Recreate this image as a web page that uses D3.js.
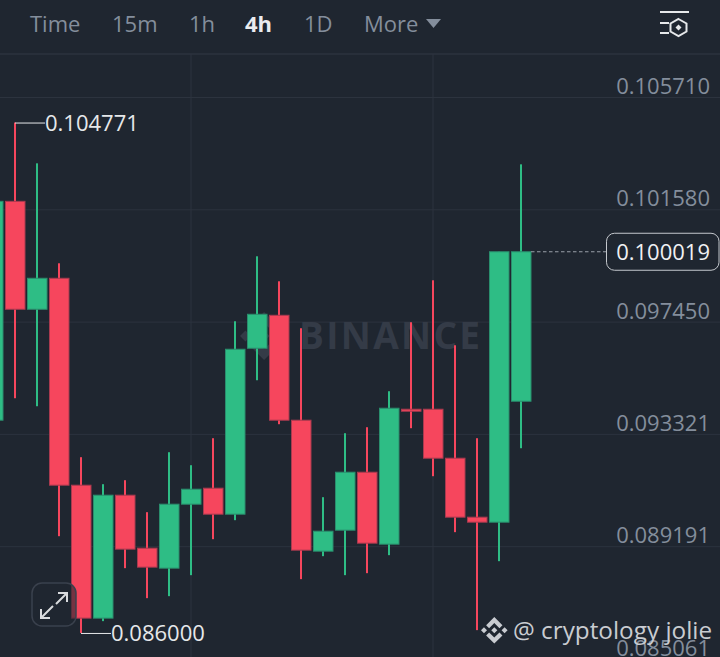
<!DOCTYPE html>
<html>
<head>
<meta charset="utf-8">
<script src="https://cdn.jsdelivr.net/npm/d3@7"></script>
<style>
  html, body { margin: 0; padding: 0; background: #1f2630; overflow: hidden; }
  svg { display: block; }
  text { font-family: "Open Sans", sans-serif; }
</style>
</head>
<body>
<div id="chart"></div>
<script>
// 4h candles
const opens  = [0.093824, 0.101874, 0.097904, 0.099044, 0.091434, 0.086545, 0.091067, 0.089118, 0.088383, 0.090736, 0.091324, 0.090368, 0.096470, 0.097683, 0.093824, 0.089008, 0.089780, 0.091912, 0.089265, 0.094228, 0.094228, 0.092427, 0.090258, 0.090074, 0.094522];
const highs  = [0.101874, 0.104771, 0.103271, 0.099595, 0.092464, 0.091471, 0.091618, 0.090442, 0.092647, 0.092169, 0.093162, 0.097463, 0.099852, 0.098933, 0.097206, 0.090993, 0.093346, 0.093566, 0.094890, 0.097426, 0.098970, 0.096580, 0.093162, 0.100019, 0.103234];
const lows   = [0.093824, 0.094632, 0.094338, 0.089559, 0.086000, 0.086435, 0.088383, 0.087280, 0.087354, 0.088126, 0.089449, 0.090148, 0.095294, 0.093677, 0.087979, 0.088824, 0.088126, 0.088199, 0.088861, 0.093530, 0.091765, 0.089707, 0.086104, 0.088640, 0.092794];
const closes = [0.101874, 0.097904, 0.099044, 0.091434, 0.086545, 0.091067, 0.089082, 0.088420, 0.090736, 0.091287, 0.090368, 0.096434, 0.097720, 0.093824, 0.089045, 0.089743, 0.091912, 0.089302, 0.094265, 0.094154, 0.092427, 0.090258, 0.090074, 0.100019, 0.100019];

const priceTicks = [0.10571, 0.10158, 0.09745, 0.093321, 0.089191, 0.085061];
const timeGridIdx = [9, 20];
const menuItems = ["Time", "15m", "1h", "4h", "1D", "More"];
const menuX = [30, 112, 189, 245, 304, 364];
const activeItem = "4h";
const highLabel = { idx: 1, value: 0.104771 };
const lowLabel = { idx: 4, value: 0.086 };
const lastPrice = 0.100019;

const width = 720;
const height = 657;
const bg = "#1f2630";
const gridColor = "#2c333e";
const up = "#2ebd85";
const down = "#f6465d";
const binancePath = "M38.73 53.2l24.59-24.58 24.6 24.6 14.3-14.31L63.32 0 24.42 38.9l14.31 14.3z M0 63.31l14.3-14.31 14.31 14.31-14.31 14.3z M38.73 73.41l24.59 24.59 24.6-24.6 14.31 14.29-38.9 38.91-38.91-38.88-.02-.02z M98 63.31l14.3-14.31 14.31 14.3-14.31 14.32z M77.83 63.3L63.32 48.78 52.59 59.51l-1.24 1.23-2.54 2.54 14.51 14.52 14.51-14.5z";

const fmt = d3.format(".6f");
const x = d3.scaleLinear().domain([0, 24]).range([-7, 521]);
const y = d3.scaleLinear().domain([0.085061, 0.10571]).range([658.5, 97]);

const svg = d3.select("#chart").append("svg").attr("width", width).attr("height", height);
svg.append("rect").attr("width", width).attr("height", height).attr("fill", bg);

// header
const menu = svg.append("g");
menuItems.forEach((m, i) => {
  menu.append("text")
    .attr("x", menuX[i])
    .attr("y", 32)
    .attr("font-size", 22)
    .attr("font-weight", m === activeItem ? 700 : 400)
    .attr("fill", m === activeItem ? "#eaecef" : "#848e9c")
    .text(m);
});
menu.append("path").attr("d", "M426 19L441 19L433.5 28Z").attr("fill", "#848e9c");

const icon = svg.append("g").attr("fill", "none").attr("stroke", "#e6e8ea").attr("stroke-width", 2);
icon.append("path").attr("d", "M660 12H689M660 23H669M660 33H669");
icon.append("path").attr("d", "M678.5 19L686.5 23.5V31.5L678.5 36L670.5 31.5V23.5Z");
icon.append("path").attr("d", "M678.5 24.5L681.5 27.5L678.5 30.5L675.5 27.5Z").attr("fill", "#e6e8ea").attr("stroke", "none");

// grid
svg.append("line").attr("x1", 0).attr("x2", width).attr("y1", 54).attr("y2", 54).attr("stroke", gridColor).attr("stroke-width", 1.5);
svg.append("g").selectAll("line").data(timeGridIdx).join("line")
  .attr("x1", (d) => x(d)).attr("x2", (d) => x(d))
  .attr("y1", 54).attr("y2", height)
  .attr("stroke", gridColor);

const axis = d3.axisRight(y).tickValues(priceTicks).tickFormat(fmt).tickSize(width);
const axisG = svg.append("g").call(axis);
axisG.select(".domain").remove();
axisG.selectAll(".tick line").attr("stroke", gridColor);
axisG.selectAll(".tick text").remove();

// watermark
svg.append("path").attr("d", binancePath)
  .attr("transform", "translate(240,312) scale(0.38)")
  .attr("fill", "#343b47");
svg.append("text")
  .attr("x", 299).attr("y", 349)
  .attr("font-size", 37).attr("font-weight", 700)
  .attr("textLength", 181)
  .attr("font-family", "Inter, sans-serif")
  .attr("fill", "#343b47")
  .text("BINANCE");

// candles
const candles = opens.map((o, i) => ({ i, o, h: highs[i], l: lows[i], c: closes[i] }));
const candle = svg.append("g").selectAll("g").data(candles).join("g");
candle.append("rect")
  .attr("x", (d) => x(d.i) - 1)
  .attr("width", 2)
  .attr("y", (d) => y(d.h))
  .attr("height", (d) => y(d.l) - y(d.h))
  .attr("fill", (d) => (d.c >= d.o ? up : down));
candle.append("rect")
  .attr("x", (d) => x(d.i) - 9.5)
  .attr("width", 19.5)
  .attr("y", (d) => y(Math.max(d.o, d.c)))
  .attr("height", (d) => Math.max(1, Math.abs(y(d.o) - y(d.c))))
  .attr("fill", (d) => (d.c >= d.o ? up : down))
  .attr("stroke", (d) => (d.c >= d.o ? "#2a8d6d" : "#a83a4f"))
  .attr("stroke-width", 1);

// price labels drawn after the candles, as the tags sit on top
svg.append("g").selectAll("text").data(priceTicks).join("text")
  .attr("x", 710)
  .attr("y", (d) => y(d) - 3)
  .attr("text-anchor", "end")
  .attr("font-size", 22)
  .attr("fill", "#848e9c")
  .text(fmt);

// high / low markers
[highLabel, lowLabel].forEach((m) => {
  svg.append("line")
    .attr("x1", x(m.idx)).attr("x2", x(m.idx) + 30)
    .attr("y1", y(m.value) + 0.5).attr("y2", y(m.value) + 0.5)
    .attr("stroke", "#e6e8ea").attr("stroke-width", 1);
  svg.append("text")
    .attr("x", x(m.idx) + 30)
    .attr("y", y(m.value) + 8.5)
    .attr("font-size", 22)
    .attr("fill", "#e6e8ea")
    .text(fmt(m.value));
});

// last price tag
svg.append("line")
  .attr("x1", x(24) + 10).attr("x2", 606)
  .attr("y1", y(lastPrice)).attr("y2", y(lastPrice))
  .attr("stroke", "#9aa0a8").attr("stroke-dasharray", "3.5 2.5");
svg.append("rect")
  .attr("x", 606.5).attr("y", y(lastPrice) - 18.5)
  .attr("width", 112.5).attr("height", 37).attr("rx", 8)
  .attr("fill", bg).attr("stroke", "#c4c8cd");
svg.append("text")
  .attr("x", 710).attr("y", y(lastPrice) + 8)
  .attr("text-anchor", "end")
  .attr("font-size", 22)
  .attr("fill", "#f0f1f3")
  .text(fmt(lastPrice));

// expand button
svg.append("rect")
  .attr("x", 32).attr("y", 583).attr("width", 44).attr("height", 43).attr("rx", 10)
  .attr("fill", bg).attr("fill-opacity", 0.6)
  .attr("stroke", "#3a414d").attr("stroke-width", 1.5);
svg.append("path")
  .attr("d", "M41 618L53 606M41 609V618H50M67 593L56 604M58 593H67V602")
  .attr("fill", "none").attr("stroke", "#d8dadd").attr("stroke-width", 2);

// source stamp
svg.append("path").attr("d", binancePath)
  .attr("transform", "translate(481,617) scale(0.21)")
  .attr("fill", "#c9ccd1");
svg.append("text")
  .attr("x", 513).attr("y", 639)
  .attr("font-size", 24.3)
  .attr("fill", "#c9ccd1")
  .text("@ cryptology jolie");
</script>
</body>
</html>
